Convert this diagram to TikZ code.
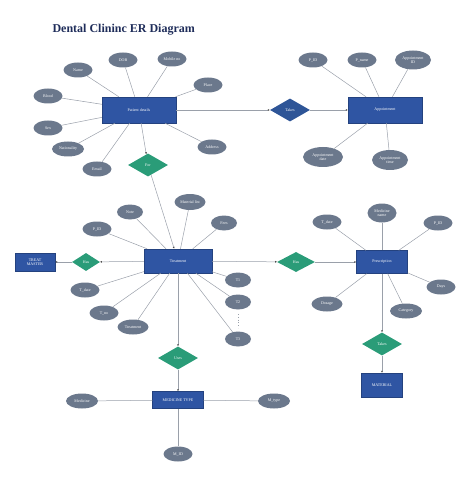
\documentclass[tikz,border=0pt]{standalone}
\usepackage{fontspec}
\setmainfont{Liberation Serif}
\usepackage{tikz}
\usetikzlibrary{arrows.meta, positioning, shapes.geometric}
\usepackage{xcolor}

\definecolor{entblue}{HTML}{2F55A3}
\definecolor{entedge}{HTML}{24427F}
\definecolor{attrgray}{HTML}{6B788C}
\definecolor{relgreen}{HTML}{2A9C78}
\definecolor{relblue}{HTML}{2E5597}
\definecolor{linkgray}{HTML}{9AA0AA}
\definecolor{titleblue}{HTML}{1F2D5A}

\tikzset{
    entity/.style={rectangle, draw=entedge, fill=entblue, text=white, line width=0.4pt,
        font=\fontsize{4}{4.6}\selectfont, align=center, inner sep=1pt},
    attr/.style={ellipse, fill=attrgray, text=white, font=\fontsize{4}{4.6}\selectfont,
        align=center, inner sep=0.5pt, minimum width=29pt, minimum height=15pt},
    rel/.style={diamond, fill=relgreen, text=white, font=\fontsize{4}{4.6}\selectfont,
        inner sep=0pt, minimum width=40pt, minimum height=23pt},
    link/.style={draw=linkgray, line width=0.5pt},
    arr/.style={link, -{Latex[length=2pt, width=2pt, color=black!70]}}
}

\begin{document}
\begin{tikzpicture}[x=1pt, y=-1pt]

    \useasboundingbox (0,0) rectangle (474,478);

    \node[anchor=west, text=titleblue, font=\fontsize{12}{14}\selectfont\bfseries] (title) at (49,30) {Dental Clininc ER Diagram};

    % entities
    \node[entity, minimum width=74pt, minimum height=26pt] (patient) at (139,110) {Patient details};
    \node[entity, minimum width=74pt, minimum height=26pt] (appoint) at (385,110) {Appointment};
    \node[entity, minimum width=68pt, minimum height=24pt] (treat) at (178,261) {Treatment};
    \node[entity, minimum width=51pt, minimum height=23pt] (prescr) at (382,262) {Prescription};
    \node[entity, minimum width=40pt, minimum height=18pt] (tmaster) at (35,262) {TREAT\\MASTER};
    \node[entity, minimum width=41pt, minimum height=24pt] (material) at (382,385) {MATERIAL};
    \node[entity, minimum width=51pt, minimum height=17pt] (medtype) at (178,400) {MEDICINE TYPE};

    % relationships
    \node[rel, fill=relblue] (takesA) at (290,110) {Takes};
    \node[rel] (for) at (148,165) {For};
    \node[rel, minimum width=28pt, minimum height=18pt] (hasL) at (86,262) {Has};
    \node[rel, minimum width=38pt, minimum height=20pt] (hasR) at (296,262) {Has};
    \node[rel] (takesM) at (382,344) {Takes};
    \node[rel] (uses) at (178,358) {Uses};

    % patient details attributes
    \node[attr] (name) at (78,70) {Name};
    \node[attr] (dob) at (123,60) {DOB};
    \node[attr] (mobile) at (172,59) {Mobile no};
    \node[attr] (place) at (208,85) {Place};
    \node[attr] (blood) at (48,96) {Blood};
    \node[attr] (sex) at (48,128) {Sex};
    \node[attr, minimum width=32pt] (nation) at (68,149) {Nationality};
    \node[attr] (email) at (97,169) {Email};
    \node[attr] (address) at (212,147) {Address};

    % appointment attributes
    \node[attr] (apid) at (313,60) {P\_ID};
    \node[attr] (apname) at (362,60) {P\_name};
    \node[attr, minimum width=36pt, minimum height=19pt] (appid) at (413,60) {Appointment\\ID};
    \node[attr, minimum width=40pt, minimum height=20pt] (appdate) at (323,157) {Appointment\\date};
    \node[attr, minimum width=36pt, minimum height=20pt] (apptime) at (390,160) {Appointment\\time};

    % treatment attributes
    \node[attr, minimum width=26pt] (note) at (130,212) {Note};
    \node[attr, minimum width=31pt, minimum height=16pt] (matlist) at (190,202) {Material list};
    \node[attr, minimum width=26pt] (fees) at (224,223) {Fees};
    \node[attr] (tpid) at (97,229) {P\_ID};
    \node[attr] (tdate) at (85,290) {T\_date};
    \node[attr] (tno) at (104,313) {T\_no};
    \node[attr, minimum width=31pt] (ttreat) at (133,327) {Treatment};
    \node[attr, minimum width=26pt] (t1) at (238,280) {T1};
    \node[attr, minimum width=26pt] (t2) at (238,302) {T2};
    \node[attr, minimum width=26pt] (t3) at (238,339) {T3};
    \draw[linkgray, line width=0.8pt, dotted] (238,314) -- (238,328);

    % prescription attributes
    \node[attr] (pdate) at (327,222) {T\_date};
    \node[attr, minimum height=19pt] (medname) at (382,213) {Medicine\\name};
    \node[attr] (ppid) at (438,223) {P\_ID};
    \node[attr] (days) at (441,287) {Days};
    \node[attr, minimum width=32pt] (category) at (406,311) {Category};
    \node[attr, minimum width=31pt] (dosage) at (327,304) {Dosage};

    % medicine type attributes
    \node[attr, minimum width=32pt] (medicine) at (82,401) {Medicine};
    \node[attr, minimum width=32pt] (mtype) at (274,401) {M\_type};
    \node[attr] (mid) at (178,454) {M\_ID};

    % attribute links
    \foreach \a in {name, dob, mobile, place, blood, sex, nation, email, address}
        \draw[link] (\a) -- (patient);
    \foreach \a in {apid, apname, appid, appdate, apptime}
        \draw[link] (\a) -- (appoint);
    \foreach \a in {note, matlist, fees, tpid, tdate, tno, ttreat, t1, t2, t3}
        \draw[link] (\a) -- (treat);
    \foreach \a in {pdate, medname, ppid, days, category, dosage}
        \draw[link] (\a) -- (prescr);
    \foreach \a in {medicine, mtype, mid}
        \draw[link] (\a) -- (medtype);

    % relationship links
    \draw[arr] (patient) -- (takesA);
    \draw[arr] (takesA) -- (appoint);
    \draw[arr] (patient) -- (for);
    \draw[arr] (for) -- (treat);
    \draw[arr] (treat) -- (hasL);
    \draw[arr] (hasL) -- (tmaster);
    \draw[arr] (treat) -- (hasR);
    \draw[arr] (hasR) -- (prescr);
    \draw[arr] (treat) -- (uses);
    \draw[arr] (uses) -- (medtype);
    \draw[arr] (prescr) -- (takesM);
    \draw[arr] (takesM) -- (material);

\end{tikzpicture}
\end{document}
